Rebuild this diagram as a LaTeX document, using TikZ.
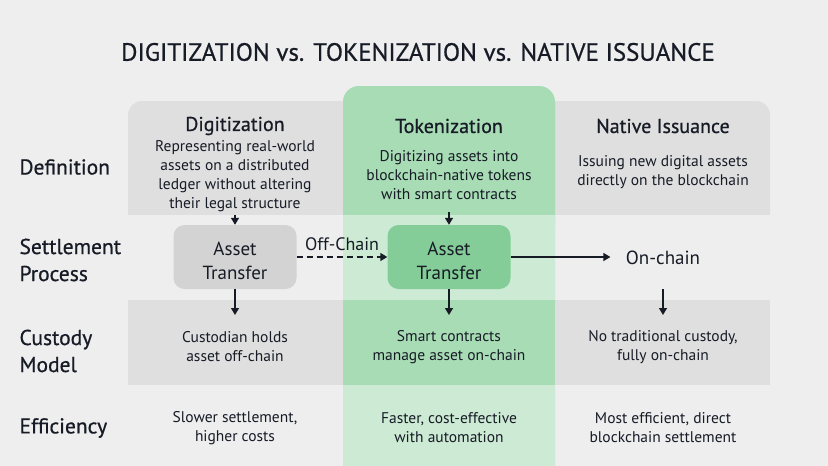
\documentclass[tikz,border=0pt]{standalone}
\usepackage{fontspec}
\setmainfont{PT Sans}
\newfontfamily\medfont[FakeBold=0.7]{PT Sans}
\usetikzlibrary{positioning, arrows.meta}

\definecolor{bgcol}{HTML}{EEEEEE}
\definecolor{rowgray}{HTML}{DFDFDF}
\definecolor{boxgray}{HTML}{D3D3D3}
\definecolor{palegreen}{HTML}{CDEBD4}
\definecolor{midgreen}{HTML}{A8DCB5}
\definecolor{boxgreen}{HTML}{84CD98}
\definecolor{ink}{HTML}{161B26}

\tikzset{
    rowlabel/.style={anchor=west, align=left, text=ink, font=\medfont\fontsize{21.5}{27}\selectfont},
    head/.style={text=ink, font=\medfont\fontsize{20}{24}\selectfont},
    cell/.style={align=center, text=ink, font=\fontsize{15.5}{19}\selectfont},
    transfer/.style={rounded corners=11pt, minimum width=123pt, minimum height=64pt,
        label={[yshift=-4pt, align=center, text=ink, font=\fontsize{19}{24}\selectfont]center:Asset\\Transfer}},
    flow/.style={draw=ink, line width=1.4pt, -{Triangle[length=7pt, width=8pt]}}
}

\begin{document}
\begin{tikzpicture}[x=1pt, y=-1pt]

    \useasboundingbox[fill=bgcol] (0,0) rectangle (828,466);

    % background bands
    \fill[rowgray, rounded corners=14pt] (128,101) rectangle (360,240);
    \fill[rowgray, rounded corners=14pt] (540,101) rectangle (770,240);
    \fill[bgcol] (120,215) rectangle (780,300);
    \fill[rowgray] (128,300) rectangle (770,385);
    \fill[palegreen, rounded corners=16pt] (343,86) rectangle (555,490);
    \fill[midgreen, rounded corners=16pt] (343,86) rectangle (555,240);
    \fill[palegreen] (343,215) rectangle (555,300);
    \fill[midgreen] (343,300) rectangle (555,385);

    \node[text=ink, font=\medfont\fontsize{25}{30}\selectfont] (title) at (418,52) {DIGITIZATION vs. TOKENIZATION vs. NATIVE ISSUANCE};

    % row labels
    \node[rowlabel] (definition) at (16,167) {Definition};
    \node[rowlabel] (settlement) at (16,260) {Settlement\\Process};
    \node[rowlabel] (custody) at (16,351) {Custody\\Model};
    \node[rowlabel] (efficiency) at (16,428) {Efficiency};

    % column heads
    \node[head] (dighead) at (235,126) {Digitization};
    \node[head] (tokhead) at (449,126) {Tokenization};
    \node[head] (nathead) at (663,126) {Native Issuance};

    % definitions
    \node[cell] (digdef) at (235,176) {Representing real-world\\assets on a distributed\\ledger without altering\\their legal structure};
    \node[cell] (tokdef) at (449,175) {Digitizing assets into\\blockchain-native tokens\\with smart contracts};
    \node[cell] (natdef) at (663,172) {Issuing new digital assets\\directly on the blockchain};

    % settlement
    \node[transfer, fill=boxgray] (digbox) at (235,257) {};
    \node[transfer, fill=boxgreen] (tokbox) at (449,257) {};
    \node[text=ink, font=\fontsize{19}{24}\selectfont] (onchain) at (663,258) {On-chain};

    % custody and efficiency
    \node[cell] (digcust) at (235,347) {Custodian holds\\asset off-chain};
    \node[cell] (tokcust) at (449,347) {Smart contracts\\manage asset on-chain};
    \node[cell] (natcust) at (663,347) {No traditional custody,\\fully on-chain};
    \node[cell] (digeff) at (235,428) {Slower settlement,\\higher costs};
    \node[cell] (tokeff) at (449,428) {Faster, cost-effective\\with automation};
    \node[cell] (nateff) at (663,428) {Most efficient, direct\\blockchain settlement};

    \coordinate (tokdrop) at (449,212);
    \coordinate (digdown) at (235,315);
    \coordinate (tokdown) at (449,315);
    \coordinate (natdown) at (663,315);
    \coordinate (natstart) at (663,289);

    \draw[flow] (digdef) -- (digbox);
    \draw[flow] (tokdrop) -- (tokbox);
    \draw[flow, dash pattern=on 6pt off 4pt] (digbox) -- node[above=2pt, text=ink, font=\fontsize{18}{22}\selectfont] {Off-Chain} (tokbox);
    \draw[flow, shorten >=12pt] (tokbox.east) -- (tokbox.east -| onchain.west);
    \draw[flow] (digbox) -- (digdown);
    \draw[flow] (tokbox) -- (tokdown);
    \draw[flow] (natstart) -- (natdown);

\end{tikzpicture}
\end{document}
